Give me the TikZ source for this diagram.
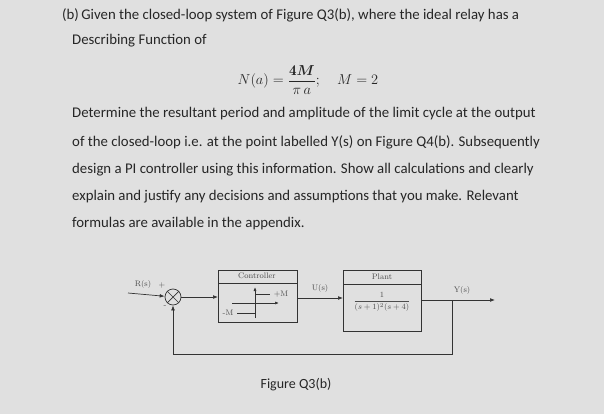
\documentclass[tikz,border=0pt]{standalone}
\usepackage{fontspec}
\usepackage{amsmath}
\setsansfont{Carlito}
\usetikzlibrary{arrows.meta}
\begin{document}
\begin{tikzpicture}[x=1pt,y=-1pt,
  txt/.style={anchor=west,inner sep=0,font=\sffamily\fontsize{14.8}{16}\selectfont,text=black!85},
  blk/.style={draw=black!80,line width=0.6pt},
  sm/.style={inner sep=0,font=\fontsize{8}{9}\selectfont,text=black!70},
  ln/.style={draw=black!80,line width=0.7pt},
  arr/.style={ln,-{Latex[length=5pt]}}]
\fill[black!12] (0,0) rectangle (604,414);
\useasboundingbox (0,0) rectangle (604,414);
\node[txt] (l1) at (62,15) {(b)\,Given the closed-loop system of Figure Q3(b), where the ideal relay has a};
\node[txt] (l2) at (72,41) {Describing Function of};
\node[inner sep=0,font=\fontsize{15}{17}\selectfont,text=black!85] (eq) at (308,80) {$\displaystyle N(a)=\frac{\mathbf{4}\boldsymbol{M}}{\pi\,a};\quad M=2$};
\node[txt] (l3) at (72,114) {Determine the resultant period and amplitude of the limit cycle at the output};
\node[txt] (l4) at (72,142) {of the closed-loop i.e. at the point labelled Y(s) on Figure Q4(b). Subsequently};
\node[txt] (l5) at (72,170) {design a PI controller using this information. Show all calculations and clearly};
\node[txt] (l6) at (72,197) {explain and justify any decisions and assumptions that you make. Relevant};
\node[txt] (l7) at (72,224) {formulas are available in the appendix.};
% diagram
\node[circle,draw=black!80,line width=0.7pt,minimum size=16pt,inner sep=0] (sum) at (173,297) {};
\draw[black!80,line width=0.7pt] (sum.north west)--(sum.south east) (sum.north east)--(sum.south west);
\coordinate (rin) at (128,293);
\node[sm] (rs) at (143,284) {R(s)};
\node[sm] (plus) at (162,285) {+};
\node[sm] (minus) at (165,307) {-};
\node[blk,minimum width=79pt,minimum height=52pt,anchor=north west] (ctrl) at (218,270) {};
\draw[blk] (218,283)--(297,283);
\node[sm] (ct) at (257,276) {Controller};
\node[blk,minimum width=78pt,minimum height=61pt,anchor=north west] (plant) at (343,270) {};
\draw[blk] (343,284)--(421,284);
\node[sm] (pt) at (382,277) {Plant};
\node[sm] (tf) at (382,302) {$\dfrac{1}{(s+1)^2(s+4)}$};
\node[sm] (us) at (320,288) {U(s)};
\node[sm] (ys) at (462,290) {Y(s)};
% relay
\draw[ln,-{Latex[length=4pt]}] (255,318)--(255,287);
\draw[ln,-{Latex[length=4pt]}] (232,303)--(279,303);
\draw[ln] (255,294)--(270,294);
\draw[ln] (237,313)--(255,313);
\node[sm] (pm) at (281,294) {+M};
\node[sm] (mm) at (228,313) {-M};
% connectors
\draw[arr] (rin)--(sum);
\draw[arr] (sum.east)--(ctrl.west |- 0,297);
\draw[arr] (297,298)--(plant.west |- 0,298);
\coordinate (yout) at (495,300);
\coordinate (br) at (452,300);
\draw[arr] (421,300)--(yout);
\draw[arr] (br)--(452,354)--(173,354)--(sum.south);
\node[inner sep=0,font=\sffamily\fontsize{14}{16}\selectfont,text=black!85] (cap) at (296,385) {Figure Q3(b)};
\end{tikzpicture}
\end{document}
